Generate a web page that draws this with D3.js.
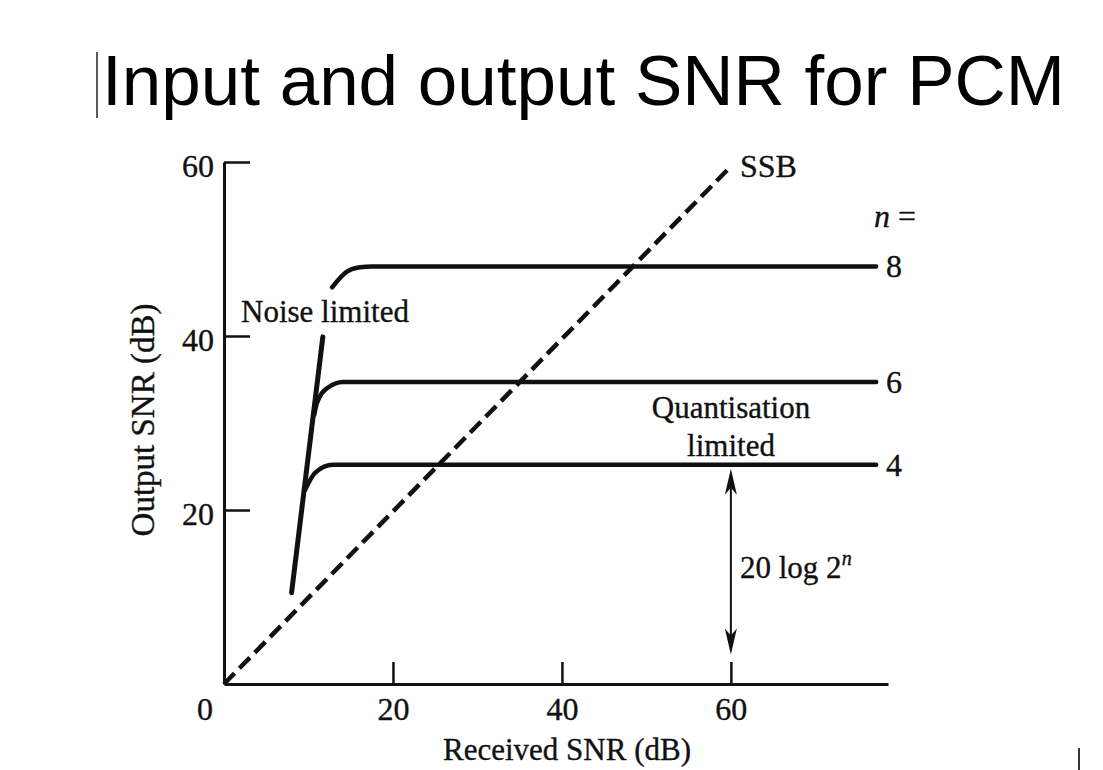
<!DOCTYPE html>
<html>
<head>
<meta charset="utf-8">
<script src="https://cdn.jsdelivr.net/npm/d3@7"></script>
<style>
  body { margin: 0; background: #fff; }
  svg { display: block; }
  .serif { font-family: "Liberation Serif", "DejaVu Serif", serif; fill: #111; stroke: #111; stroke-width: 0.35px; }
</style>
</head>
<body>
<div id="chart"></div>
<script>
// PCM input/output SNR sketch

const width = 1103;
const height = 770;

// data (dB)
const bitsN = [8, 6, 4];
const plateauDb = [48, 34.7, 25.2];
const kneePoints = [
  [[12.8, 45.6], [14.55, 47.4], [16.1, 47.9], [17.5, 48]],
  [[10.7, 31.0], [11.0, 32.3], [12.2, 34.0], [14.1, 34.7]],
  [[9.6, 22.3], [10.8, 24.3], [12.9, 25.2]]
];
const lineEndDb = 77.2;
const noiseLimited = [[8.0, 10.5], [11.7, 39.9]];
const ssbLine = [[0, 0], [59.6, 59.1]];
const xTicks = [20, 40, 60];
const yTicks = [20, 40, 60];
const arrowX = 60;
const arrowBottomDb = 3.4;

const svg = d3.select("#chart").append("svg")
  .attr("width", width)
  .attr("height", height);

svg.append("rect").attr("width", width).attr("height", height).attr("fill", "#fff");

// title
svg.append("text")
  .attr("x", 102).attr("y", 105)
  .style("font-family", "'Liberation Sans', Arial, sans-serif")
  .style("font-size", "71px")
  .attr("fill", "#000")
  .text("Input and output SNR for PCM");

// little cursor mark left of the title
svg.append("line")
  .attr("x1", 97).attr("x2", 97).attr("y1", 52).attr("y2", 118)
  .attr("stroke", "#222").attr("stroke-width", 1.5);

const x = d3.scaleLinear().domain([0, 78.6]).range([224, 888]);
const y = d3.scaleLinear().domain([0, 60]).range([684, 162]);

// axes
const gx = svg.append("g").attr("transform", `translate(0,${y(0)})`)
  .call(d3.axisBottom(x).tickValues(xTicks).tickSizeInner(-22).tickSizeOuter(0));
gx.select(".domain").attr("stroke", "#111").attr("stroke-width", 3);
gx.selectAll(".tick line").attr("stroke", "#111").attr("stroke-width", 2.5);
gx.selectAll(".tick text")
  .attr("class", "serif").attr("dy", null).attr("y", 36)
  .style("font-size", "32px");

const gy = svg.append("g").attr("transform", `translate(${x(0)},0)`)
  .call(d3.axisLeft(y).tickValues(yTicks).tickSizeInner(-26).tickSizeOuter(0));
gy.select(".domain").attr("stroke", "#111").attr("stroke-width", 3);
gy.selectAll(".tick line").attr("stroke", "#111").attr("stroke-width", 2.5);
gy.selectAll(".tick text")
  .attr("class", "serif").attr("x", -10).attr("dy", "0.45em")
  .style("font-size", "32px");

svg.append("text").attr("class", "serif")
  .attr("x", x(0) - 19).attr("y", y(0) + 36)
  .attr("text-anchor", "middle")
  .style("font-size", "32px")
  .text("0");

// axis titles
svg.append("text").attr("class", "serif")
  .attr("transform", `translate(154,${(y(0) + y(60)) / 2 - 3}) rotate(-90)`)
  .attr("text-anchor", "middle")
  .style("font-size", "33px")
  .text("Output SNR (dB)");

svg.append("text").attr("class", "serif")
  .attr("x", 567).attr("y", 760)
  .attr("text-anchor", "middle")
  .style("font-size", "31px")
  .text("Received SNR (dB)");

// SSB dashed reference
const straight = d3.line().x(d => x(d[0])).y(d => y(d[1]));
svg.append("path")
  .attr("d", straight(ssbLine))
  .attr("fill", "none").attr("stroke", "#111")
  .attr("stroke-width", 4.5).attr("stroke-dasharray", "15,7");

svg.append("text").attr("class", "serif")
  .attr("x", 740).attr("y", 177)
  .style("font-size", "32px")
  .text("SSB");

// noise-limited line
svg.append("path")
  .attr("d", straight(noiseLimited))
  .attr("fill", "none").attr("stroke", "#111")
  .attr("stroke-width", 5).attr("stroke-linecap", "round");

svg.append("text").attr("class", "serif")
  .attr("x", 241).attr("y", 322)
  .style("font-size", "31px")
  .text("Noise limited");

// PCM curves
const curve = d3.line().x(d => x(d[0])).y(d => y(d[1])).curve(d3.curveMonotoneX);
bitsN.forEach((n, i) => {
  const pts = kneePoints[i].concat([[lineEndDb, plateauDb[i]]]);
  svg.append("path")
    .attr("d", curve(pts))
    .attr("fill", "none").attr("stroke", "#111")
    .attr("stroke-width", 4.5).attr("stroke-linecap", "round");
  svg.append("text").attr("class", "serif")
    .attr("x", 894).attr("y", y(plateauDb[i]) + 11)
    .attr("text-anchor", "middle")
    .style("font-size", "32px")
    .text(n);
});

const nLab = svg.append("text").attr("class", "serif")
  .attr("x", 874).attr("y", 227)
  .style("font-size", "32px");
nLab.append("tspan").style("font-style", "italic").text("n");
nLab.append("tspan").text(" =");

svg.append("text").attr("class", "serif")
  .attr("x", 731).attr("y", 418)
  .attr("text-anchor", "middle")
  .style("font-size", "31px")
  .text("Quantisation");
svg.append("text").attr("class", "serif")
  .attr("x", 731).attr("y", 456)
  .attr("text-anchor", "middle")
  .style("font-size", "31px")
  .text("limited");

// 20 log 2^n double arrow
const ax = x(arrowX);
const aTop = y(plateauDb[2]) + 4;
const aBot = y(arrowBottomDb);
svg.append("line")
  .attr("x1", ax).attr("x2", ax).attr("y1", aTop + 10).attr("y2", aBot - 10)
  .attr("stroke", "#111").attr("stroke-width", 2);
svg.append("path")
  .attr("d", `M${ax},${aTop} L${ax + 6},${aTop + 26} L${ax},${aTop + 19} L${ax - 6},${aTop + 26} Z`)
  .attr("fill", "#111");
svg.append("path")
  .attr("d", `M${ax},${aBot} L${ax + 6},${aBot - 26} L${ax},${aBot - 19} L${ax - 6},${aBot - 26} Z`)
  .attr("fill", "#111");

const logLab = svg.append("text").attr("class", "serif")
  .attr("x", 740).attr("y", 578)
  .style("font-size", "31px");
logLab.append("tspan").text("20 log 2");
logLab.append("tspan").attr("dy", -13).style("font-size", "20px").style("font-style", "italic").text("n");

// page marker bottom right
svg.append("line")
  .attr("x1", 1079).attr("x2", 1079).attr("y1", 748).attr("y2", 770)
  .attr("stroke", "#333").attr("stroke-width", 2);
</script>
</body>
</html>
